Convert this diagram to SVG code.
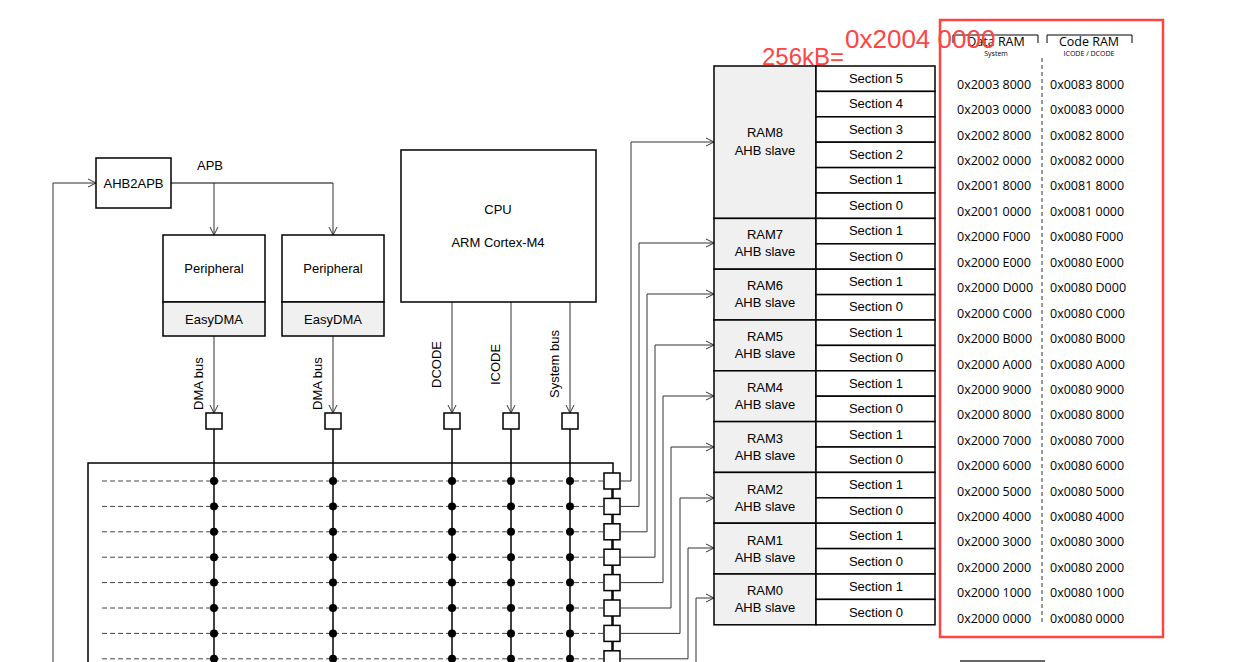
<svg xmlns="http://www.w3.org/2000/svg" width="1234" height="662" viewBox="0 0 1234 662">
<defs>
<marker id="ar" markerWidth="10" markerHeight="10" refX="9" refY="5" orient="auto" markerUnits="userSpaceOnUse"><path d="M1,1 L9,5 L1,9" fill="none" stroke="#333" stroke-width="1"/></marker>
</defs>
<style>
text{font-family:"Liberation Sans",Arial,sans-serif;font-size:13px;fill:#000}
.b{fill:#fff;stroke:#000;stroke-width:1.5}
.g{fill:#f0f0f0;stroke:#000;stroke-width:1.5}
.l{fill:none;stroke:#000;stroke-width:1}
.la{fill:none;stroke:#333;stroke-width:1;marker-end:url(#ar)}
.d{stroke:#444;stroke-width:1;stroke-dasharray:5,3}
.a{font-family:"Open Sans","Liberation Sans",sans-serif;font-size:12.5px}
.s{font-family:"Open Sans","Liberation Sans",sans-serif;font-size:7px}
.r{fill:#f44;font-family:"Liberation Sans",sans-serif}
</style>
<rect width="1234" height="662" fill="#fff"/>
<g id="connectors">
<polyline class="la" points="53,662 53,183 96,183"/>
<polyline class="l" points="171,183 333,183"/>
<line class="la" x1="214" y1="183" x2="214" y2="235"/>
<line class="la" x1="333" y1="183" x2="333" y2="235"/>
<line class="la" x1="214" y1="336" x2="214" y2="413"/>
<line class="la" x1="333" y1="336" x2="333" y2="413"/>
<line class="la" x1="452" y1="302" x2="452" y2="413"/>
<line class="la" x1="511" y1="302" x2="511" y2="413"/>
<line class="la" x1="570" y1="302" x2="570" y2="413"/>
<g id="bus">
<rect x="88" y="463" width="525" height="210" fill="none" stroke="#000" stroke-width="1.5"/>
<g class="d">
<line x1="102" y1="481" x2="604" y2="481"/><line x1="102" y1="506.4" x2="604" y2="506.4"/><line x1="102" y1="531.8" x2="604" y2="531.8"/><line x1="102" y1="557.2" x2="604" y2="557.2"/><line x1="102" y1="582.6" x2="604" y2="582.6"/><line x1="102" y1="608" x2="604" y2="608"/><line x1="102" y1="633.4" x2="604" y2="633.4"/><line x1="102" y1="658.8" x2="604" y2="658.8"/>
</g>
<g stroke="#000" stroke-width="1.5"><line x1="214" y1="429" x2="214" y2="662"/><line x1="333" y1="429" x2="333" y2="662"/><line x1="452" y1="429" x2="452" y2="662"/><line x1="511" y1="429" x2="511" y2="662"/><line x1="570" y1="429" x2="570" y2="662"/><line x1="612" y1="481" x2="612" y2="662"/></g>
<g fill="#000">
<circle cx="214" cy="481" r="4"/><circle cx="214" cy="506.4" r="4"/><circle cx="214" cy="531.8" r="4"/><circle cx="214" cy="557.2" r="4"/><circle cx="214" cy="582.6" r="4"/><circle cx="214" cy="608" r="4"/><circle cx="214" cy="633.4" r="4"/><circle cx="214" cy="658.8" r="4"/>
<circle cx="333" cy="481" r="4"/><circle cx="333" cy="506.4" r="4"/><circle cx="333" cy="531.8" r="4"/><circle cx="333" cy="557.2" r="4"/><circle cx="333" cy="582.6" r="4"/><circle cx="333" cy="608" r="4"/><circle cx="333" cy="633.4" r="4"/><circle cx="333" cy="658.8" r="4"/>
<circle cx="452" cy="481" r="4"/><circle cx="452" cy="506.4" r="4"/><circle cx="452" cy="531.8" r="4"/><circle cx="452" cy="557.2" r="4"/><circle cx="452" cy="582.6" r="4"/><circle cx="452" cy="608" r="4"/><circle cx="452" cy="633.4" r="4"/><circle cx="452" cy="658.8" r="4"/>
<circle cx="511" cy="481" r="4"/><circle cx="511" cy="506.4" r="4"/><circle cx="511" cy="531.8" r="4"/><circle cx="511" cy="557.2" r="4"/><circle cx="511" cy="582.6" r="4"/><circle cx="511" cy="608" r="4"/><circle cx="511" cy="633.4" r="4"/><circle cx="511" cy="658.8" r="4"/>
<circle cx="570" cy="481" r="4"/><circle cx="570" cy="506.4" r="4"/><circle cx="570" cy="531.8" r="4"/><circle cx="570" cy="557.2" r="4"/><circle cx="570" cy="582.6" r="4"/><circle cx="570" cy="608" r="4"/><circle cx="570" cy="633.4" r="4"/><circle cx="570" cy="658.8" r="4"/>
</g>
<g class="b">
<rect x="604" y="473" width="16" height="16"/><rect x="604" y="498.4" width="16" height="16"/><rect x="604" y="523.8" width="16" height="16"/><rect x="604" y="549.2" width="16" height="16"/><rect x="604" y="574.6" width="16" height="16"/><rect x="604" y="600" width="16" height="16"/><rect x="604" y="625.4" width="16" height="16"/><rect x="604" y="650.8" width="16" height="16"/>
</g>
</g>
<polyline class="la" points="620,481 631,481 631,142 714,142"/>
<polyline class="la" points="620,506.4 639,506.4 639,243 714,243"/>
<polyline class="la" points="620,531.8 647,531.8 647,294 714,294"/>
<polyline class="la" points="620,557.2 655,557.2 655,345 714,345"/>
<polyline class="la" points="620,582.6 663,582.6 663,396 714,396"/>
<polyline class="la" points="620,608 671,608 671,447 714,447"/>
<polyline class="la" points="620,633.4 680,633.4 680,498 714,498"/>
<polyline class="la" points="620,658.8 688,658.8 688,548 714,548"/>
<polyline class="la" points="696,662 696,598 714,598"/>
</g>
<g id="ahb2apb"><rect class="b" x="96" y="158" width="75" height="50"/><text x="133.5" y="188" text-anchor="middle">AHB2APB</text></g>
<text x="210" y="170" text-anchor="middle">APB</text>
<g id="periph1"><rect class="b" x="163" y="235" width="102" height="67"/><rect class="g" x="163" y="302" width="102" height="34"/><text x="214" y="273" text-anchor="middle">Peripheral</text><text x="214" y="324" text-anchor="middle">EasyDMA</text></g>
<g id="periph2"><rect class="b" x="282" y="235" width="102" height="67"/><rect class="g" x="282" y="302" width="102" height="34"/><text x="333" y="273" text-anchor="middle">Peripheral</text><text x="333" y="324" text-anchor="middle">EasyDMA</text></g>
<g id="cpu"><rect class="b" x="401" y="150" width="195" height="152"/><text x="498" y="214" text-anchor="middle">CPU</text><text x="498" y="247" text-anchor="middle">ARM Cortex-M4</text></g>
<g id="ports" class="b"><rect x="206" y="413" width="16" height="16"/><rect x="325" y="413" width="16" height="16"/><rect x="444" y="413" width="16" height="16"/><rect x="503" y="413" width="16" height="16"/><rect x="562" y="413" width="16" height="16"/></g>
<text transform="translate(203,410) rotate(-90)">DMA bus</text>
<text transform="translate(322,410) rotate(-90)">DMA bus</text>
<text transform="translate(441,388) rotate(-90)">DCODE</text>
<text transform="translate(500,385) rotate(-90)">ICODE</text>
<text transform="translate(559,398) rotate(-90)">System bus</text>
<g id="rams">
<rect class="g" x="714" y="66" width="102" height="152.4"/><text x="765" y="137" text-anchor="middle">RAM8</text><text x="765" y="155" text-anchor="middle">AHB slave</text>
<g id="ram7"><rect class="g" x="714" y="218.4" width="102" height="50.8"/><text x="765" y="239" text-anchor="middle">RAM7</text><text x="765" y="256" text-anchor="middle">AHB slave</text></g>
<g id="ram6"><rect class="g" x="714" y="269.2" width="102" height="50.8"/><text x="765" y="290" text-anchor="middle">RAM6</text><text x="765" y="307" text-anchor="middle">AHB slave</text></g>
<g id="ram5"><rect class="g" x="714" y="320" width="102" height="50.8"/><text x="765" y="341" text-anchor="middle">RAM5</text><text x="765" y="358" text-anchor="middle">AHB slave</text></g>
<g id="ram4"><rect class="g" x="714" y="370.8" width="102" height="50.8"/><text x="765" y="392" text-anchor="middle">RAM4</text><text x="765" y="409" text-anchor="middle">AHB slave</text></g>
<g id="ram3"><rect class="g" x="714" y="421.6" width="102" height="50.8"/><text x="765" y="443" text-anchor="middle">RAM3</text><text x="765" y="460" text-anchor="middle">AHB slave</text></g>
<g id="ram2"><rect class="g" x="714" y="472.4" width="102" height="50.8"/><text x="765" y="494" text-anchor="middle">RAM2</text><text x="765" y="511" text-anchor="middle">AHB slave</text></g>
<g id="ram1"><rect class="g" x="714" y="523.2" width="102" height="50.8"/><text x="765" y="545" text-anchor="middle">RAM1</text><text x="765" y="562" text-anchor="middle">AHB slave</text></g>
<g id="ram0"><rect class="g" x="714" y="574" width="102" height="50.8"/><text x="765" y="595" text-anchor="middle">RAM0</text><text x="765" y="612" text-anchor="middle">AHB slave</text></g>
</g>
<g id="sections">
<g class="b">
<rect x="816" y="66" width="119" height="25.4"/><rect x="816" y="91.4" width="119" height="25.4"/><rect x="816" y="116.8" width="119" height="25.4"/><rect x="816" y="142.2" width="119" height="25.4"/><rect x="816" y="167.6" width="119" height="25.4"/><rect x="816" y="193" width="119" height="25.4"/><rect x="816" y="218.4" width="119" height="25.4"/><rect x="816" y="243.8" width="119" height="25.4"/><rect x="816" y="269.2" width="119" height="25.4"/><rect x="816" y="294.6" width="119" height="25.4"/><rect x="816" y="320" width="119" height="25.4"/><rect x="816" y="345.4" width="119" height="25.4"/><rect x="816" y="370.8" width="119" height="25.4"/><rect x="816" y="396.2" width="119" height="25.4"/><rect x="816" y="421.6" width="119" height="25.4"/><rect x="816" y="447" width="119" height="25.4"/><rect x="816" y="472.4" width="119" height="25.4"/><rect x="816" y="497.8" width="119" height="25.4"/><rect x="816" y="523.2" width="119" height="25.4"/><rect x="816" y="548.6" width="119" height="25.4"/><rect x="816" y="574" width="119" height="25.4"/><rect x="816" y="599.4" width="119" height="25.4"/>
</g>
<g text-anchor="middle">
<text x="876" y="83">Section 5</text><text x="876" y="108">Section 4</text><text x="876" y="134">Section 3</text><text x="876" y="159">Section 2</text><text x="876" y="184">Section 1</text><text x="876" y="210">Section 0</text>
<text x="876" y="235">Section 1</text><text x="876" y="261">Section 0</text><text x="876" y="286">Section 1</text><text x="876" y="311">Section 0</text><text x="876" y="337">Section 1</text><text x="876" y="362">Section 0</text><text x="876" y="388">Section 1</text><text x="876" y="413">Section 0</text><text x="876" y="439">Section 1</text><text x="876" y="464">Section 0</text><text x="876" y="489">Section 1</text><text x="876" y="515">Section 0</text><text x="876" y="540">Section 1</text><text x="876" y="566">Section 0</text><text x="876" y="591">Section 1</text><text x="876" y="617">Section 0</text>
</g>
</g>
<g id="addresses">
<rect x="940" y="20" width="223" height="617" fill="none" stroke="#f44" stroke-width="2.5"/>
<polyline class="l" points="953,43 953,35 1038,35 1038,43" stroke="#333"/>
<polyline class="l" points="1047,43 1047,35 1132,35 1132,43" stroke="#333"/>
<text x="996" y="46" text-anchor="middle" class="a">Data RAM</text>
<text x="996" y="56" text-anchor="middle" class="s">System</text>
<text x="1089" y="46" text-anchor="middle" class="a">Code RAM</text>
<text x="1089" y="56" text-anchor="middle" class="s">ICODE / DCODE</text>
<line x1="1042" y1="58" x2="1042" y2="625" stroke="#333" stroke-dasharray="4,3"/>
<g>
<text x="957" y="89" class="a">0x2003 8000</text><text x="1050" y="89" class="a">0x0083 8000</text>
<text x="957" y="114" class="a">0x2003 0000</text><text x="1050" y="114" class="a">0x0083 0000</text>
<text x="957" y="140" class="a">0x2002 8000</text><text x="1050" y="140" class="a">0x0082 8000</text>
<text x="957" y="165" class="a">0x2002 0000</text><text x="1050" y="165" class="a">0x0082 0000</text>
<text x="957" y="190" class="a">0x2001 8000</text><text x="1050" y="190" class="a">0x0081 8000</text>
<text x="957" y="216" class="a">0x2001 0000</text><text x="1050" y="216" class="a">0x0081 0000</text>
<text x="957" y="241" class="a">0x2000 F000</text><text x="1050" y="241" class="a">0x0080 F000</text>
<text x="957" y="267" class="a">0x2000 E000</text><text x="1050" y="267" class="a">0x0080 E000</text>
<text x="957" y="292" class="a">0x2000 D000</text><text x="1050" y="292" class="a">0x0080 D000</text>
<text x="957" y="318" class="a">0x2000 C000</text><text x="1050" y="318" class="a">0x0080 C000</text>
<text x="957" y="343" class="a">0x2000 B000</text><text x="1050" y="343" class="a">0x0080 B000</text>
<text x="957" y="369" class="a">0x2000 A000</text><text x="1050" y="369" class="a">0x0080 A000</text>
<text x="957" y="394" class="a">0x2000 9000</text><text x="1050" y="394" class="a">0x0080 9000</text>
<text x="957" y="419" class="a">0x2000 8000</text><text x="1050" y="419" class="a">0x0080 8000</text>
<text x="957" y="445" class="a">0x2000 7000</text><text x="1050" y="445" class="a">0x0080 7000</text>
<text x="957" y="470" class="a">0x2000 6000</text><text x="1050" y="470" class="a">0x0080 6000</text>
<text x="957" y="496" class="a">0x2000 5000</text><text x="1050" y="496" class="a">0x0080 5000</text>
<text x="957" y="521" class="a">0x2000 4000</text><text x="1050" y="521" class="a">0x0080 4000</text>
<text x="957" y="546" class="a">0x2000 3000</text><text x="1050" y="546" class="a">0x0080 3000</text>
<text x="957" y="572" class="a">0x2000 2000</text><text x="1050" y="572" class="a">0x0080 2000</text>
<text x="957" y="597" class="a">0x2000 1000</text><text x="1050" y="597" class="a">0x0080 1000</text>
<text x="957" y="623" class="a">0x2000 0000</text><text x="1050" y="623" class="a">0x0080 0000</text>
</g>
</g>
<text x="762" y="65" class="r" style="font-size:24px">256kB=</text>
<text x="845" y="48" class="r" style="font-size:26px">0x2004 0000</text>
<line x1="960" y1="661" x2="1045" y2="661" stroke="#666" stroke-width="2"/>
</svg>
